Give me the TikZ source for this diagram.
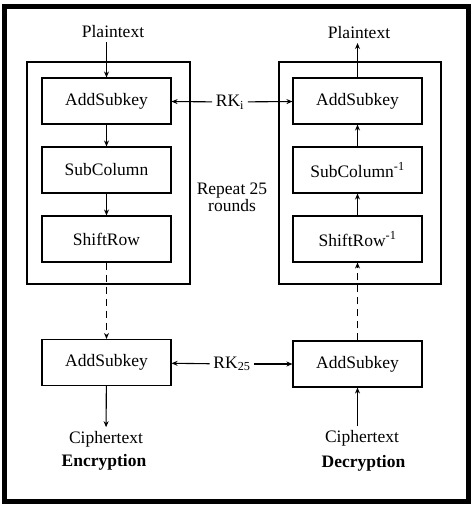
\documentclass[tikz,border=0pt]{standalone}
\usepackage{fontspec}
\setmainfont{Liberation Serif}
\usetikzlibrary{positioning,arrows.meta}

\begin{document}
\begin{tikzpicture}[x=1pt, y=-1pt, node distance={69pt}, line width=1.1pt, >={Stealth[length=6pt,width=5pt]},
    every node/.style = {font=\fontsize{17.5}{20}\selectfont},
    box/.style = {draw, minimum width=129pt, minimum height=46pt, inner sep=0pt},
    panel/.style = {line width=1.4pt},
    dashline/.style = {dash pattern=on 7pt off 5pt}]
    \useasboundingbox (0,0) rectangle (474,508);
    \draw[line width=5pt] (4,7) rectangle (468,501);
    \draw[panel] (27,62) rectangle (190,284);
    \draw[panel] (279,62) rectangle (441,284);
    % encryption
    \node[box] (a1) at (106.5,101) {AddSubkey};
    \node[box] (s1) [below of=a1] {SubColumn};
    \node[box] (r1) [below of=s1] {ShiftRow};
    \node[box] (a2) at (106.5,362.5) {AddSubkey};
    \node (p1) at (113,32) {Plaintext};
    \node (c1) at (106,439) {Ciphertext};
    \node[font=\fontsize{17.5}{20}\selectfont\bfseries] (e1) at (104,462) {Encryption};
    % decryption
    \node[box] (a3) at (357.5,101) {AddSubkey};
    \node[box] (s3) [below of=a3] {SubColumn\textsuperscript{-1}};
    \node[box] (r3) [below of=s3] {ShiftRow\textsuperscript{-1}};
    \node[box] (a4) at (357.5,364) {AddSubkey};
    \node (p2) at (359,33) {Plaintext};
    \node (c2) at (362,438) {Ciphertext};
    \node[font=\fontsize{17.5}{20}\selectfont\bfseries] (d2) at (363.5,463) {Decryption};
    % keys
    \node (k1) at (230,102) {RK\textsubscript{i}};
    \node (k2) at (232,364) {RK\textsubscript{25}};
    \node[align=center, font=\fontsize{17.5}{17}\selectfont] (rep) at (232,197) {Repeat 25\\rounds};
    \draw[->] (p1.south -| a1.north) -- (a1.north);
    \draw[->] (a1) -- (s1);
    \draw[->] (s1) -- (r1);
    \draw[->, dashline] (r1) -- (a2);
    \draw[->] (a2) -- (c1);
    \draw[->] (a3.north) -- (a3.north |- p2.south);
    \draw[->] (s3) -- (a3);
    \draw[->] (r3) -- (s3);
    \draw[->, dashline] (a4) -- (r3);
    \draw[->] (c2.north -| a4.south) -- (a4.south);
    \draw[->] (k1) -- (a1);
    \draw[->] (k1) -- (a3);
    \draw[->] (k2) -- (a2);
    \draw[->] (k2) -- (a4);
\end{tikzpicture}
\end{document}
